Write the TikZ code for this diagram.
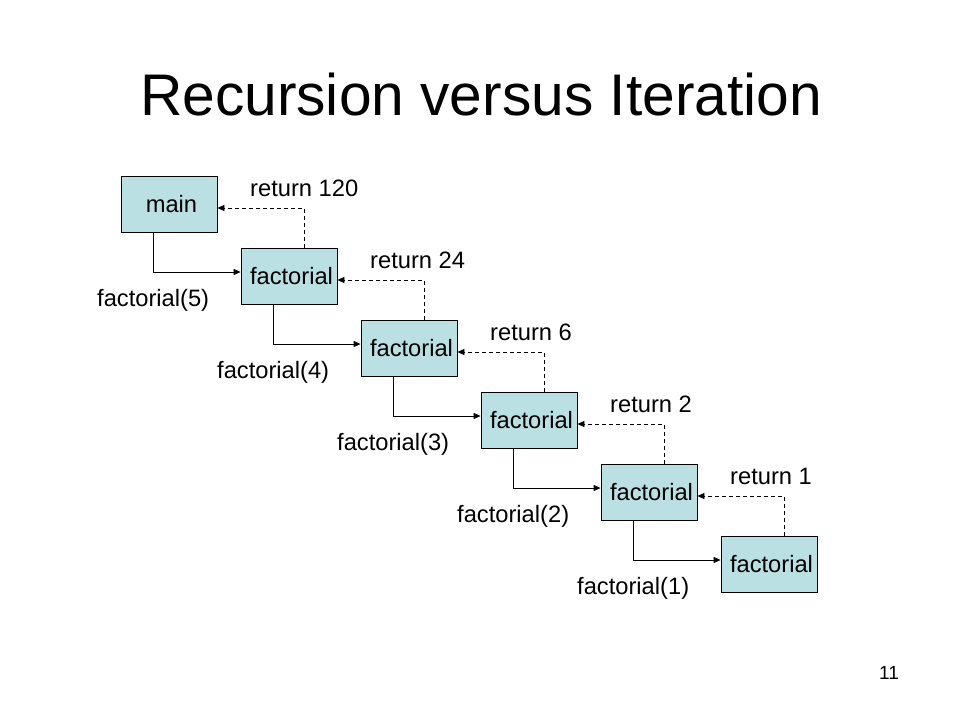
\documentclass[tikz,border=0pt]{standalone}
\usepackage{fontspec}
\setmainfont{Liberation Sans}
\usepackage{tikz}
\usetikzlibrary{arrows.meta,positioning}
\usepackage{xcolor}

\definecolor{boxblue}{RGB}{187,224,227}

\begin{document}
\begin{tikzpicture}[x=1pt, y=-1pt]
    \useasboundingbox (0, 0) rectangle (960, 720);

    \tikzset{
      frame/.style={draw=black, fill=boxblue, line width=0.8pt, minimum width=96pt, minimum height=56pt, inner sep=0pt, font=\fontsize{23.7}{28}\selectfont},
      lbl/.style={anchor=west, inner sep=0pt, font=\fontsize{23.7}{28}\selectfont},
      call/.style={black, line width=0.8pt, -{Triangle[length=7pt, width=6pt]}},
      ret/.style={black, line width=0.8pt, dash pattern=on 4pt off 3pt, -{Triangle[length=7pt, width=6pt]}}
    }

    \coordinate (M) at (169, 204);
    \coordinate (F5) at (289, 276);
    \coordinate (F4) at (409, 348);
    \coordinate (F3) at (529, 420);
    \coordinate (F2) at (649, 492);
    \coordinate (F1) at (769, 564);

    \node (title) at (481, 95) {\fontsize{58.7}{64}\selectfont Recursion versus Iteration};
    \node (page) at (889, 673) {\fontsize{19}{21}\selectfont 11};

    \node [frame] (main) at (M) {\hspace*{5pt}main};
    \node [frame] (fact5) at (F5) {\hspace*{5pt}factorial};
    \node [frame] (fact4) at (F4) {\hspace*{5pt}factorial};
    \node [frame] (fact3) at (F3) {\hspace*{5pt}factorial};
    \node [frame] (fact2) at (F2) {\hspace*{5pt}factorial};
    \node [frame] (fact1) at (F1) {\hspace*{5pt}factorial};

    \node [lbl] (call5) at (97, 300) {factorial(5)};
    \node [lbl] (call4) at (217, 372) {factorial(4)};
    \node [lbl] (call3) at (337, 444) {factorial(3)};
    \node [lbl] (call2) at (457, 516) {factorial(2)};
    \node [lbl] (call1) at (577, 588) {factorial(1)};

    \node [lbl] (ret120) at (250, 188) {return 120};
    \node [lbl] (ret24) at (370, 260) {return 24};
    \node [lbl] (ret6) at (490, 332) {return 6};
    \node [lbl] (ret2) at (610, 404) {return 2};
    \node [lbl] (ret1) at (730, 476) {return 1};

    \draw [call] ([xshift=-16pt]main.south) |- ([yshift=4pt]fact5.west);
    \draw [call] ([xshift=-16pt]fact5.south) |- ([yshift=4pt]fact4.west);
    \draw [call] ([xshift=-16pt]fact4.south) |- ([yshift=4pt]fact3.west);
    \draw [call] ([xshift=-16pt]fact3.south) |- ([yshift=4pt]fact2.west);
    \draw [call] ([xshift=-16pt]fact2.south) |- ([yshift=4pt]fact1.west);

    \draw [ret] ([xshift=15pt]fact5.north) |- ([yshift=-4pt]main.east);
    \draw [ret] ([xshift=15pt]fact4.north) |- ([yshift=-4pt]fact5.east);
    \draw [ret] ([xshift=15pt]fact3.north) |- ([yshift=-4pt]fact4.east);
    \draw [ret] ([xshift=15pt]fact2.north) |- ([yshift=-4pt]fact3.east);
    \draw [ret] ([xshift=15pt]fact1.north) |- ([yshift=-4pt]fact2.east);
  \end{tikzpicture}
\end{document}
